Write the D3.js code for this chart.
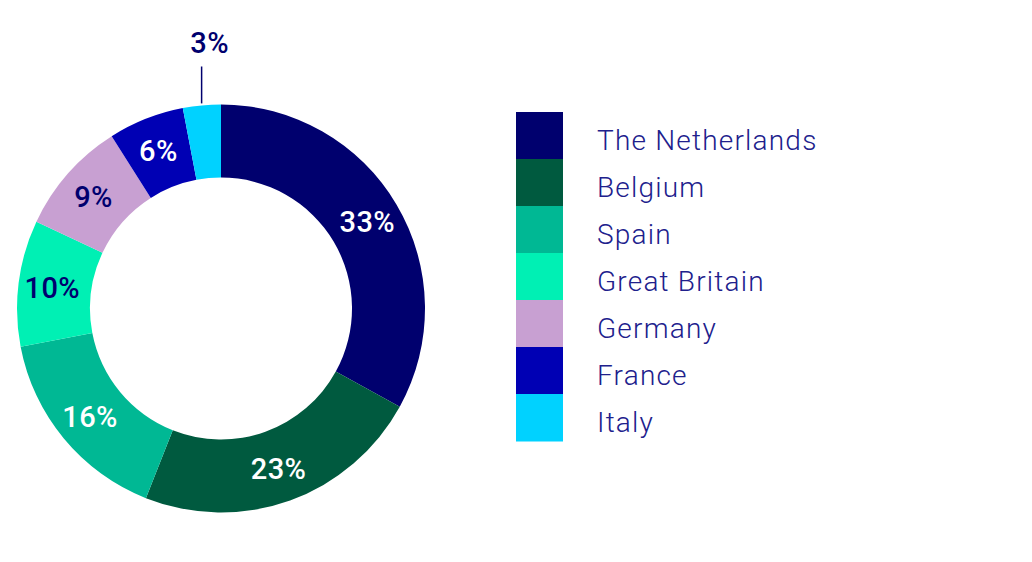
<!DOCTYPE html>
<html>
<head>
<meta charset="utf-8">
<script src="https://cdn.jsdelivr.net/npm/d3@7/dist/d3.min.js"></script>
<style>
  body { margin: 0; background: #fff; }
  svg { display: block; }
</style>
</head>
<body>
<svg id="chart"></svg>
<script>
// Data
var countries = ["The Netherlands", "Belgium", "Spain", "Great Britain", "Germany", "France", "Italy"];
var shares = [33, 23, 16, 10, 9, 6, 3];
var colors = ["#00006e", "#005a3f", "#00b894", "#00f0b4", "#c8a0d2", "#0000b4", "#00d2ff"];
var labelColors = ["#fff", "#fff", "#fff", "#00006e", "#00006e", "#fff", "#00006e"];

var width = 1032, height = 562;
var cx = 221, cy = 308.5;
var outerR = 204, innerR = 131;

var svg = d3.select("#chart")
  .attr("width", width)
  .attr("height", height);

var data = countries.map(function(c, i) { return {name: c, value: shares[i], i: i}; });

// Pie layout, clockwise from 12 o'clock, keep order
var pie = d3.pie().sort(null).value(function(d) { return d.value; });
var arc = d3.arc().innerRadius(innerR).outerRadius(outerR);
var labelArc = d3.arc().innerRadius(170).outerRadius(170);

var g = svg.append("g")
  .attr("transform", "translate(" + cx + "," + cy + ")");

var slices = pie(data);

g.selectAll("path")
  .data(slices)
  .enter()
.append("path")
  .attr("d", arc)
  .attr("fill", function(d) { return colors[d.data.i]; });

// Labels inside the ring, the small one goes outside with a leader line
var inside = slices.filter(function(d) { return d.data.value >= 5; });
var outside = slices.filter(function(d) { return d.data.value < 5; });

function labelStyle(sel) {
  sel.style("font-family", "Roboto, 'Noto Sans', sans-serif")
    .style("font-weight", 500)
    .style("font-size", "29px")
    .style("letter-spacing", "0.4px");
}

g.selectAll("text.inner")
  .data(inside)
  .enter()
.append("text")
  .attr("class", "inner")
  .attr("transform", function(d) { return "translate(" + labelArc.centroid(d) + ")"; })
  .attr("text-anchor", "middle")
  .attr("dy", "0.36em")
  .call(labelStyle)
  .attr("fill", function(d) { return labelColors[d.data.i]; })
  .text(function(d) { return d.data.value + "%"; });

outside.forEach(function(d) {
  var mid = (d.startAngle + d.endAngle) / 2;
  var p1 = [Math.sin(mid) * (outerR + 2), -Math.cos(mid) * (outerR + 2)];
  var p0 = [p1[0], -(outerR + 38)];
  g.append("line")
    .attr("x1", p0[0]).attr("y1", p0[1])
    .attr("x2", p1[0]).attr("y2", p1[1])
    .attr("stroke", "#00006e")
    .attr("stroke-width", 1.5);
  g.append("text")
    .attr("x", p0[0] + 8)
    .attr("y", p0[1] - 14)
    .attr("text-anchor", "middle")
    .call(labelStyle)
    .attr("fill", labelColors[d.data.i])
    .text(d.data.value + "%");
});

// Legend
var legendY = d3.scaleBand()
  .domain(countries)
  .range([112, 441]);

var legend = svg.append("g");

legend.selectAll("rect")
  .data(countries)
  .enter()
.append("rect")
  .attr("x", 516)
  .attr("y", function(d) { return legendY(d); })
  .attr("width", 47)
  .attr("height", legendY.bandwidth() + 0.5)
  .attr("fill", function(d, i) { return colors[i]; });

legend.selectAll("text")
  .data(countries)
  .enter()
.append("text")
  .attr("x", 597)
  .attr("y", function(d) { return legendY(d) + legendY.bandwidth() / 2 + 14; })
  .style("font-family", "Roboto, 'Noto Sans', sans-serif")
  .style("font-weight", 300)
  .style("font-size", "28px")
  .style("letter-spacing", "1.2px")
  .attr("fill", "#20208c")
  .text(function(d) { return d; });
</script>
</body>
</html>
